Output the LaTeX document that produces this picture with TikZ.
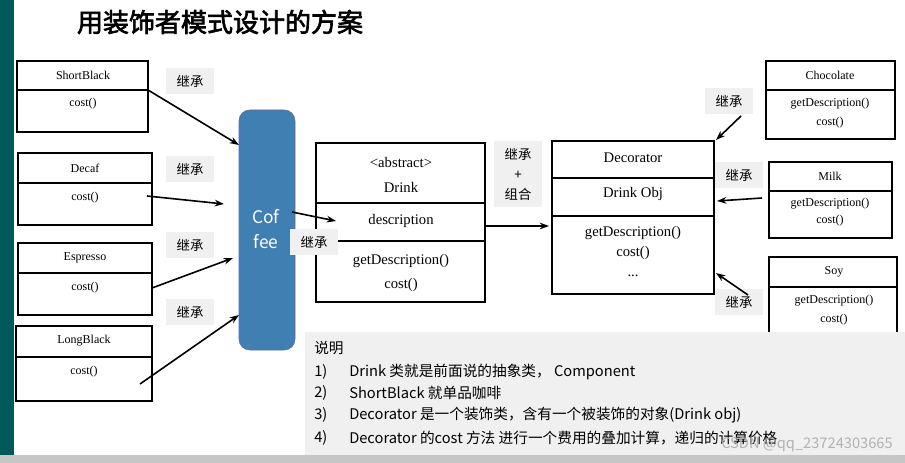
\documentclass[tikz,border=0pt]{standalone}
\usepackage{fontspec}
\setmainfont{Liberation Serif}
\newfontfamily\cjk{Noto Sans CJK SC}
\newfontfamily\cjkb{Noto Sans CJK SC}[FakeBold=2.5]
\usetikzlibrary{arrows.meta}
\begin{document}
\begin{tikzpicture}[x=0.75pt,y=-0.75pt,
  box/.style={draw,line width=1.4pt},
  lbl/.style={fill=gray!12,inner sep=0pt,minimum width=36pt,minimum height=20pt,font=\cjk\fontsize{10}{12}\selectfont},
  t/.style={font=\fontsize{9}{11}\selectfont,inner sep=0pt},
  tb/.style={font=\fontsize{11}{13}\selectfont,inner sep=0pt},
  arr/.style={-{Stealth[length=7pt,width=5pt]},line width=1.2pt},
  note/.style={font=\cjk\fontsize{11}{13}\selectfont,anchor=west,inner sep=0pt}]
\useasboundingbox (0,0) rectangle (905,463);
\fill[white] (0,0) rectangle (905,463);
\fill[teal!70!black] (0,0) rectangle (14,455);
\fill[white] (14,0) rectangle (905,455);
\fill[gray!45] (0,455) rectangle (905,463);
\node[font=\cjkb\fontsize{19.5}{22}\selectfont] (title) at (220,22) {用装饰者模式设计的方案};
% left classes
\draw[box] (17,61) rectangle (148,132); \draw[box] (17,90)--(148,90);
\node[t] (sb) at (83,75) {ShortBlack}; \node[t] at (83,104) {cost()};
\draw[box] (18,153) rectangle (152,225); \draw[box] (18,183)--(152,183);
\node[t] (dc) at (85,168) {Decaf}; \node[t] at (85,198) {cost()};
\draw[box] (18,243) rectangle (152,315); \draw[box] (18,273)--(152,273);
\node[t] (es) at (85,258) {Espresso}; \node[t] at (85,288) {cost()};
\draw[box] (16,326) rectangle (152,401); \draw[box] (16,357)--(152,357);
\node[t] (lb) at (84,341) {LongBlack}; \node[t] at (84,372) {cost()};
\node[lbl] (l1) at (190,81) {继承};
\node[lbl] (l2) at (190,169) {继承};
\node[lbl] (l3) at (190,245) {继承};
\node[lbl] (l4) at (190,312) {继承};
% coffee
\draw[fill=blue!45!cyan!60!black!75, draw=blue!50!black!60, rounded corners=8pt] (239,110) rectangle (295,350);
\node[font=\cjk\fontsize{13}{15}\selectfont,text=white] (cof) at (266,217) {Cof};
\node[font=\cjk\fontsize{13}{15}\selectfont,text=white] (fee) at (266,242) {fee};
\coordinate (a1s) at (148,90); \coordinate (a1e) at (239,145);
\coordinate (a2s) at (147,196); \coordinate (a2e) at (224,204);
\coordinate (a3s) at (152,288); \coordinate (a3e) at (233,258);
\coordinate (a4s) at (140,384); \coordinate (a4e) at (239,315);
\draw[arr] (a1s)--(a1e); \draw[arr] (a2s)--(a2e); \draw[arr] (a3s)--(a3e); \draw[arr] (a4s)--(a4e);
% drink
\draw[box] (316,143) rectangle (485,302); \draw[box] (316,203)--(485,203); \draw[box] (316,241)--(485,241);
\node[tb] (abs) at (401,162) {<abstract>}; \node[tb] (dr) at (401,187) {Drink};
\node[tb] (desc) at (401,221) {description};
\node[tb] at (401,261) {getDescription()}; \node[tb] at (401,285) {cost()};
\coordinate (c1) at (292,212); \coordinate (c2) at (336,221);
\draw[arr] (c1)--(c2);
\node[lbl] (l5) at (314,242) {继承};
% decorator
\draw[box] (552,141) rectangle (714,294); \draw[box] (552,178)--(714,178); \draw[box] (552,216)--(714,216);
\node[tb] (dec) at (633,158) {Decorator}; \node[tb] at (633,194) {Drink Obj};
\node[tb] at (633,233) {getDescription()}; \node[tb] at (633,253) {cost()}; \node[tb] at (633,276) {...};
\coordinate (d1) at (485,226); \coordinate (d2) at (549,226);
\draw[arr] (d1)--(d2);
\node[fill=gray!12,minimum width=36pt,minimum height=49pt,inner sep=0pt,font=\cjk\fontsize{10}{15}\selectfont,align=center] (l6) at (518,174) {继承\\+\\组合};
% right classes
\draw[box] (766,61) rectangle (895,139); \draw[box] (766,90)--(895,90);
\node[t] (ch) at (830,75) {Chocolate}; \node[t] at (830,104) {getDescription()}; \node[t] at (830,123) {cost()};
\draw[box] (769,162) rectangle (892,238); \draw[box] (769,191)--(892,191);
\node[t] (mk) at (830,176) {Milk}; \node[t] at (830,204) {getDescription()}; \node[t] at (830,221) {cost()};
\draw[box] (769,257) rectangle (897,340); \draw[box] (769,287)--(897,287);
\node[t] (soy) at (834,272) {Soy}; \node[t] at (834,301) {getDescription()}; \node[t] at (834,320) {cost()};
\node[lbl] (l7) at (729,101) {继承};
\node[lbl] (l8) at (739,175) {继承};
\node[lbl] (l9) at (739,302) {继承};
\coordinate (e1) at (741,116); \coordinate (e2) at (716,140);
\coordinate (f1) at (762,198); \coordinate (f2) at (717,201);
\coordinate (g1) at (748,295); \coordinate (g2) at (716,273);
\draw[arr] (e1)--(e2); \draw[arr] (f1)--(f2); \draw[arr] (g1)--(g2);
% note panel
\fill[gray!12] (305,332) rectangle (905,455);
\node[note] (sm) at (314,348) {说明};
\node[note] at (314,372) {1)}; \node[note] (n1) at (349,372) {Drink 类就是前面说的抽象类， Component};
\node[note] at (314,393) {2)}; \node[note] (n2) at (349,393) {ShortBlack 就单品咖啡};
\node[note] at (314,415) {3)}; \node[note] (n3) at (349,415) {Decorator 是一个装饰类，含有一个被装饰的对象(Drink obj)};
\node[note] at (314,438) {4)}; \node[note] (n4) at (349,438) {Decorator 的cost 方法 进行一个费用的叠加计算，递归的计算价格};
\node[font=\cjk\fontsize{11}{13}\selectfont,text=gray!60,anchor=east,inner sep=0pt] (wm) at (893,445) {CSDN @qq\_23724303665};
\end{tikzpicture}
\end{document}
